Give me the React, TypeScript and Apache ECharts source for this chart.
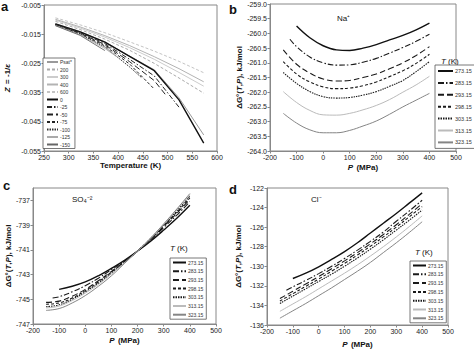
import React, { useEffect, useRef } from 'react';
import * as echarts from 'echarts';

// ---------- Panel a data ----------
const aTemps = [273.15, 323.15, 373.15, 423.15, 473.15, 523.15, 573.15];
const aPsat = [-0.0114, -0.0141, -0.0176, -0.0225, -0.0272, -0.0368, -0.0495];
const a200 = [-0.0106, -0.0134, -0.0167, -0.0205, -0.025, -0.03, -0.0352];
const a300 = [-0.0102, -0.0129, -0.016, -0.0196, -0.0236, -0.0281, -0.0328];
const a400 = [-0.0099, -0.0125, -0.0155, -0.0189, -0.0227, -0.0268, -0.0313];
const a600 = [-0.0094, -0.0118, -0.0145, -0.0176, -0.0208, -0.0243, -0.0282];
const a0 = [-0.0115, -0.0142, -0.0177, -0.0226, -0.0275, -0.0375, -0.0523];
const aTempsM25 = [273.15, 323.15, 373.15, 423.15, 473.15, 523.15];
const aM25 = [-0.0116, -0.0144, -0.0182, -0.0236, -0.0293, -0.04];
const aTempsM50 = [273.15, 323.15, 373.15, 423.15, 473.15, 498.15];
const aM50 = [-0.0117, -0.0146, -0.0186, -0.0244, -0.0309, -0.0362];
const aTempsM75 = [273.15, 323.15, 373.15, 423.15, 473.15];
const aM75 = [-0.0118, -0.0148, -0.019, -0.0252, -0.0338];
const aTempsM100 = [273.15, 323.15, 373.15, 423.15, 448.15];
const aM100 = [-0.0119, -0.015, -0.0194, -0.0262, -0.03];
const aTempsM125 = [273.15, 323.15, 373.15, 398.15];
const aM125 = [-0.012, -0.0152, -0.0199, -0.0228];
const aTempsM150 = [273.15, 323.15, 373.15];
const aM150 = [-0.0121, -0.0154, -0.0206];

// ---------- Pressure grids (MPa) ----------
const p273 = [-100, -50, 0, 50, 100, 150, 200, 250, 300, 350, 400];
const p283 = [-125, -100, -50, 0, 50, 100, 150, 200, 250, 300, 350, 400];
const pFull = [-150, -100, -50, 0, 50, 100, 150, 200, 250, 300, 350, 400];

const tempNames = ['273.15', '283.15', '293.15', '298.15', '303.15', '313.15', '323.15'];

// ---------- Panel b (Na+) ----------
const b273 = [-259.75, -260.15, -260.42, -260.56, -260.58, -260.5, -260.38, -260.22, -260.07, -259.88, -259.65];
const b283 = [-260.2, -260.45, -260.8, -261.0, -261.08, -261.07, -260.98, -260.85, -260.67, -260.48, -260.27, -260.03];
const b293 = [-260.56, -261.05, -261.35, -261.55, -261.62, -261.6, -261.5, -261.38, -261.2, -261.0, -260.75, -260.45];
const b298 = [-260.96, -261.38, -261.65, -261.82, -261.88, -261.86, -261.78, -261.65, -261.47, -261.27, -261.02, -260.71];
const b303 = [-261.33, -261.7, -261.98, -262.15, -262.2, -262.18, -262.1, -261.98, -261.8, -261.6, -261.3, -260.96];
const b313 = [-261.98, -262.35, -262.62, -262.77, -262.78, -262.72, -262.6, -262.45, -262.25, -262.0, -261.75, -261.46];
const b323 = [-262.72, -263.05, -263.28, -263.38, -263.38, -263.3, -263.15, -262.98, -262.75, -262.5, -262.27, -262.04];

// ---------- Panel c (SO4-2) ----------
const c273 = [-744.2, -743.95, -743.6, -743.1, -742.5, -741.85, -741.1, -740.3, -739.4, -738.45, -737.4];
const c283 = [-744.9, -744.8, -744.4, -743.9, -743.3, -742.6, -741.9, -741.1, -740.2, -739.2, -738.2, -737.1];
const c293 = [-745.25, -745.15, -744.75, -744.2, -743.5, -742.75, -741.95, -741.1, -740.15, -739.1, -738.05, -736.9];
const c298 = [-745.4, -745.3, -744.9, -744.3, -743.6, -742.8, -741.95, -741.1, -740.1, -739.05, -737.95, -736.8];
const c303 = [-745.6, -745.45, -745.0, -744.4, -743.7, -742.9, -742.0, -741.1, -740.1, -739.0, -737.85, -736.65];
const c313 = [-745.7, -745.55, -745.1, -744.5, -743.8, -742.95, -742.05, -741.1, -740.1, -738.95, -737.75, -736.55];
const c323 = [-745.9, -745.75, -745.3, -744.7, -743.95, -743.1, -742.1, -741.1, -740.05, -738.9, -737.7, -736.45];

// ---------- Panel d (Cl-) ----------
const d273 = [-131.25, -130.7, -130.05, -129.3, -128.5, -127.6, -126.6, -125.6, -124.6, -123.55, -122.5];
const d283 = [-132.45, -132.1, -131.45, -130.75, -130.0, -129.2, -128.35, -127.45, -126.5, -125.4, -124.35, -123.25];
const d293 = [-133.3, -132.55, -131.8, -131.05, -130.25, -129.45, -128.6, -127.7, -126.75, -125.75, -124.7, -123.6];
const d298 = [-133.55, -132.8, -132.05, -131.3, -130.5, -129.7, -128.85, -127.95, -127.0, -126.0, -124.95, -123.9];
const d303 = [-133.8, -133.05, -132.3, -131.55, -130.8, -130.0, -129.15, -128.25, -127.3, -126.3, -125.3, -124.25];
const d313 = [-134.6, -133.85, -133.1, -132.3, -131.5, -130.7, -129.85, -128.95, -128.0, -127.0, -125.95, -124.85];
const d323 = [-135.3, -134.55, -133.8, -133.0, -132.2, -131.35, -130.5, -129.6, -128.6, -127.6, -126.55, -125.45];

const aNames = ['Psat*', '200', '300', '400', '600', '0', '-25', '-50', '-75', '-100', '-125', '-150'];

const pair = (xs: number[], ys: number[]) => ys.map((y, i) => [xs[i], y]);

const tStyles: any[] = [
  { color: '#111', width: 1.4, type: 'solid' },
  { color: '#1a1a1a', width: 1.1, type: [6, 2, 1.5, 2] },
  { color: '#1a1a1a', width: 1.1, type: [6, 3] },
  { color: '#1a1a1a', width: 1.1, type: [3, 2] },
  { color: '#1a1a1a', width: 1.1, type: [1.5, 1] },
  { color: '#bbbbbb', width: 1, type: 'solid' },
  { color: '#858585', width: 1, type: 'solid' },
];

function tSeries(idx: number, sets: number[][]) {
  return sets.map((vals, i) => ({
    type: 'line',
    name: tempNames[i],
    xAxisIndex: idx,
    yAxisIndex: idx,
    symbol: 'none',
    smooth: 0.4,
    color: tStyles[i].color,
    itemStyle: { color: tStyles[i].color },
    lineStyle: tStyles[i],
    data: pair(i === 0 ? p273 : i === 1 ? p283 : pFull, vals),
    z: 2,
  }));
}

const FONT = 'Liberation Sans, Arial, sans-serif';
const axisCommon = {
  axisLine: { show: true, onZero: false, lineStyle: { color: '#888', width: 1 } },
  axisTick: { show: true, length: 2.5, lineStyle: { color: '#888' } },
  splitLine: { show: false },
  axisLabel: { fontSize: 7, color: '#222', margin: 3, fontFamily: FONT },
};

const richName = {
  i: { fontStyle: 'italic', fontWeight: 'bold', fontSize: 8, fontFamily: FONT, color: '#111' },
  b: { fontWeight: 'bold', fontSize: 8, fontFamily: FONT, color: '#111' },
};

function legendFor(names: string[], left: number, top: number, itemW: number, itemH: number, gap: number, fs: number, lh: number, pad: number[]) {
  return {
    show: true,
    orient: 'vertical',
    left,
    top,
    data: names,
    selectedMode: false,
    itemWidth: itemW,
    itemHeight: itemH,
    itemGap: gap,
    padding: pad,
    backgroundColor: '#fff',
    borderColor: '#555',
    borderWidth: 0.8,
    itemStyle: { opacity: 0 },
    textStyle: { fontSize: fs, lineHeight: lh, color: '#333', fontFamily: FONT, padding: [0, 0, 0, -3] },
    z: 10,
  };
}

export default function App() {
  const ref = useRef<HTMLDivElement>(null);
  useEffect(() => {
    if (!ref.current) return;
    const chart = echarts.init(ref.current, undefined, { renderer: 'svg' });

    const aSeries: any[] = [
      { name: 'Psat*', xs: aTemps, ys: aPsat, ls: { color: '#9a9a9a', width: 1, type: 'solid' } },
      { name: '200', xs: aTemps, ys: a200, ls: { color: '#aaaaaa', width: 1, type: [3, 2] } },
      { name: '300', xs: aTemps, ys: a300, ls: { color: '#cccccc', width: 1, type: 'solid' } },
      { name: '400', xs: aTemps, ys: a400, ls: { color: '#b3b3b3', width: 1, type: 'solid' } },
      { name: '600', xs: aTemps, ys: a600, ls: { color: '#c4c4c4', width: 1, type: [3, 2] } },
      { name: '0', xs: aTemps, ys: a0, ls: { color: '#111', width: 1.4, type: 'solid' } },
      { name: '-25', xs: aTempsM25, ys: aM25, ls: { color: '#222', width: 1, type: [5, 2, 1.5, 2] } },
      { name: '-50', xs: aTempsM50, ys: aM50, ls: { color: '#222', width: 1, type: [6, 3] } },
      { name: '-75', xs: aTempsM75, ys: aM75, ls: { color: '#222', width: 1, type: [3, 2] } },
      { name: '-100', xs: aTempsM100, ys: aM100, ls: { color: '#333', width: 1, type: [1.5, 1] } },
      { name: '-125', xs: aTempsM125, ys: aM125, ls: { color: '#aaaaaa', width: 0.9, type: 'solid' } },
      { name: '-150', xs: aTempsM150, ys: aM150, ls: { color: '#666', width: 0.9, type: 'solid' } },
    ].map((s) => ({
      type: 'line',
      name: s.name,
      xAxisIndex: 0,
      yAxisIndex: 0,
      symbol: 'none',
      color: s.ls.color,
      itemStyle: { color: s.ls.color },
      lineStyle: s.ls,
      data: pair(s.xs, s.ys),
      z: 2,
    }));

    const tk = { i: { fontStyle: 'italic', fontSize: 8, fontFamily: FONT, fill: '#111' } };

    const option: any = {
      animation: false,
      backgroundColor: '#fff',
      textStyle: { fontFamily: FONT },
      grid: [
        { left: 41, top: 5, width: 176, height: 146, show: true, borderColor: '#888', borderWidth: 1 },
        { left: 270, top: 4, width: 186, height: 147, show: true, borderColor: '#888', borderWidth: 1 },
        { left: 33, top: 188, width: 183, height: 136, show: true, borderColor: '#888', borderWidth: 1 },
        { left: 267, top: 188, width: 181, height: 138, show: true, borderColor: '#888', borderWidth: 1 },
      ],
      xAxis: [
        { ...axisCommon, type: 'value', gridIndex: 0, min: 250, max: 600, interval: 50,
          name: 'Temperature (K)', nameLocation: 'middle', nameGap: 10,
          nameTextStyle: { fontWeight: 'bold', fontSize: 8, color: '#111' } },
        { ...axisCommon, type: 'value', gridIndex: 1, min: -200, max: 500, interval: 100,
          name: '{i|P} {b|(MPa)}', nameLocation: 'middle', nameGap: 10, nameTextStyle: { rich: richName } },
        { ...axisCommon, type: 'value', gridIndex: 2, min: -200, max: 500, interval: 100,
          name: '{i|P} {b|(MPa)}', nameLocation: 'middle', nameGap: 10, nameTextStyle: { rich: richName } },
        { ...axisCommon, type: 'value', gridIndex: 3, min: -200, max: 500, interval: 100,
          name: '{i|P} {b|(MPa)}', nameLocation: 'middle', nameGap: 13, nameTextStyle: { rich: richName } },
      ],
      yAxis: [
        { ...axisCommon, type: 'value', gridIndex: 0, min: -0.055, max: -0.005, interval: 0.01,
          axisLabel: { ...axisCommon.axisLabel, formatter: (v: number) => v.toFixed(3) },
          name: '{i|Z} {b|= -1/}{i|ε}', nameLocation: 'middle', nameGap: 31, nameTextStyle: { rich: richName } },
        { ...axisCommon, type: 'value', gridIndex: 1, min: -264, max: -259, interval: 0.5,
          axisLabel: { ...axisCommon.axisLabel, formatter: (v: number) => v.toFixed(1) },
          name: '{b|ΔG°(}{i|T}{b|,}{i|P}{b|), kJ/mol}', nameLocation: 'middle', nameGap: 24, nameTextStyle: { rich: richName } },
        { ...axisCommon, type: 'value', gridIndex: 2, min: -747, max: -736, interval: 2,
          axisLabel: { ...axisCommon.axisLabel, showMaxLabel: false,
            formatter: (v: number) => (Math.abs(v + 736) < 1e-6 ? '' : String(Math.round(v))) },
          name: '{b|ΔG°(}{i|T}{b|,}{i|P}{b|), kJ/mol}', nameLocation: 'middle', nameGap: 19, nameTextStyle: { rich: richName } },
        { ...axisCommon, type: 'value', gridIndex: 3, min: -136, max: -122, interval: 2,
          name: '{b|ΔG°(}{i|T}{b|,}{i|P}{b|), kJ/mol}', nameLocation: 'middle', nameGap: 25, nameTextStyle: { rich: richName } },
      ],
      legend: [
        legendFor(aNames, 43, 58, 11, 4, 1.5, 5, 6, [1, 3, 1, 3]),
        legendFor(tempNames, 435, 65, 15, 6, 4.9, 5.5, 7, [2.5, 3, 2.5, 2]),
        legendFor(tempNames, 170, 258, 13, 5, 2.7, 5, 6, [1.5, 3, 1.5, 2]),
        legendFor(tempNames, 410, 261, 13, 5, 2.8, 5, 6, [1.5, 3, 1.5, 2]),
      ],
      graphic: [
        { type: 'text', left: 1, top: 0, style: { text: 'a', fontSize: 13, fontWeight: 'bold', fill: '#111', fontFamily: FONT } },
        { type: 'text', left: 229, top: 3, style: { text: 'b', fontSize: 13, fontWeight: 'bold', fill: '#111', fontFamily: FONT } },
        { type: 'text', left: 3, top: 179, style: { text: 'c', fontSize: 13, fontWeight: 'bold', fill: '#111', fontFamily: FONT } },
        { type: 'text', left: 229, top: 183, style: { text: 'd', fontSize: 13, fontWeight: 'bold', fill: '#111', fontFamily: FONT } },
        { type: 'text', left: 337, top: 14, style: { text: 'Na⁺', fontSize: 8, fill: '#111', fontFamily: FONT } },
        { type: 'text', left: 72, top: 195, style: { text: 'SO₄⁻²', fontSize: 8, fill: '#111', fontFamily: FONT } },
        { type: 'text', left: 311, top: 195, style: { text: 'Cl⁻', fontSize: 8, fill: '#111', fontFamily: FONT } },
        { type: 'text', left: 441, top: 57, style: { text: '{i|T} (K)', fontSize: 8, fill: '#111', fontFamily: FONT, rich: tk } },
        { type: 'text', left: 170, top: 244, style: { text: '{i|T} (K)', fontSize: 8, fill: '#111', fontFamily: FONT, rich: tk } },
        { type: 'text', left: 415, top: 248, style: { text: '{i|T} (K)', fontSize: 8, fill: '#111', fontFamily: FONT, rich: tk } },
      ],
      series: [
        ...aSeries,
        ...tSeries(1, [b273, b283, b293, b298, b303, b313, b323]),
        ...tSeries(2, [c273, c283, c293, c298, c303, c313, c323]),
        ...tSeries(3, [d273, d283, d293, d298, d303, d313, d323]),
      ],
    };
    chart.setOption(option);
    return () => chart.dispose();
  }, []);
  return <div ref={ref} style={{ position: 'fixed', left: 0, top: 0, width: 474, height: 351 }} />;
}
